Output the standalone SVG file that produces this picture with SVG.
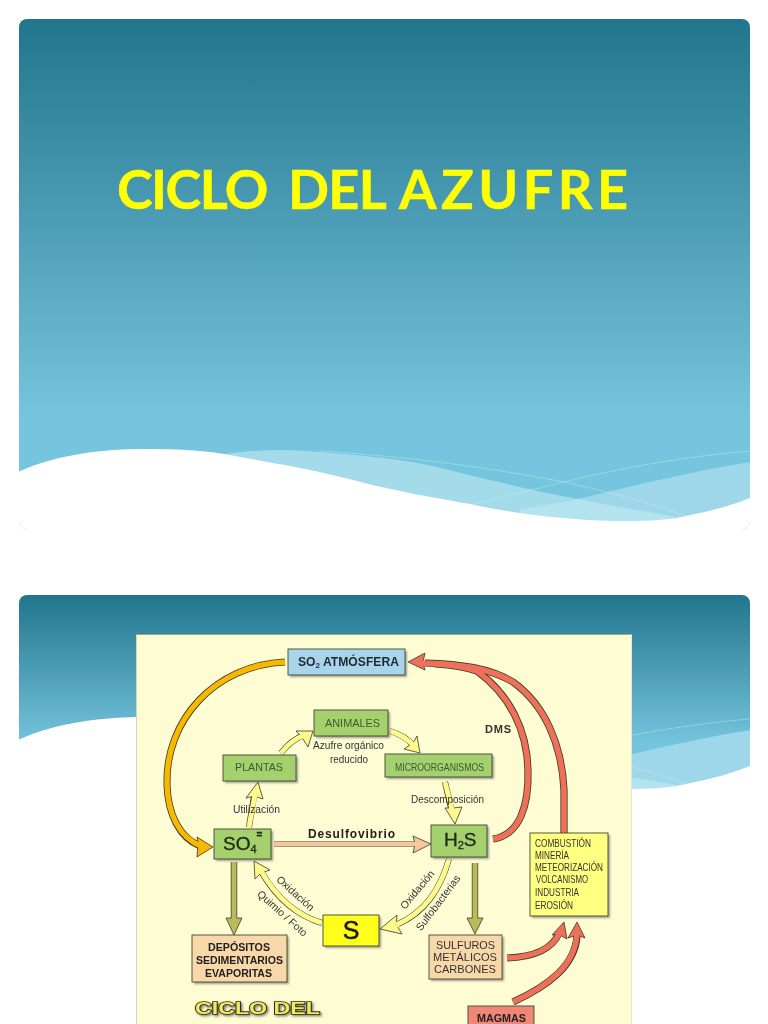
<svg xmlns="http://www.w3.org/2000/svg" xmlns:xlink="http://www.w3.org/1999/xlink" width="768" height="1024" viewBox="0 0 768 1024">
<style>
text{font-family:"Liberation Sans",Arial,sans-serif}
.box{stroke:#3f4a34;stroke-width:.9}
.sh{fill:#555;opacity:.55;filter:url(#bl)}
.g{fill:#a5d06e}
.t{font-size:10.5px;fill:#333}
.tg{font-size:11px;fill:#3d5a30}
.b{font-size:11px;font-weight:bold;fill:#222}
.big{font-size:19px;fill:#1c2a14;stroke:#1c2a14;stroke-width:.35}
.o{fill:none;stroke:#3a3a2a}
.head{stroke:#3a3a2a;stroke-width:.8;stroke-linejoin:round}
.red{fill:none;stroke:#ef7058;stroke-width:5.6}
.ro{stroke-width:7.2}
.org{fill:none;stroke:#f7b800;stroke-width:5.4}
.oo{stroke-width:7}
.yel{fill:none;stroke:#fdf98c;stroke-width:5}
.yo{stroke-width:6}
.pea{fill:none;stroke:#f6c79a;stroke-width:4}
.oli{fill:none;stroke:#b9ba5c;stroke-width:5}
.fr{fill:#ef7058}.fo{fill:#f7b800}.fy{fill:#fdf98c}.fp{fill:#f6c79a}.fl{fill:#b9ba5c}
</style>
<defs>
<linearGradient id="s1" x1="0" y1="19" x2="0" y2="420" gradientUnits="userSpaceOnUse"><stop offset="0" stop-color="#23758d"/><stop offset="1" stop-color="#74c5dd"/></linearGradient>
<linearGradient id="s2" x1="0" y1="595" x2="0" y2="745" gradientUnits="userSpaceOnUse"><stop offset="0" stop-color="#23758d"/><stop offset="1" stop-color="#74c5dd"/></linearGradient>
<filter id="bl" x="-20%" y="-20%" width="140%" height="140%"><feGaussianBlur stdDeviation="1"/></filter>
<filter id="soft" x="0" y="0" width="100%" height="100%"><feGaussianBlur stdDeviation=".3"/></filter>
<filter id="ds" x="-5%" y="-20%" width="115%" height="150%"><feDropShadow dx="1.5" dy="1.5" stdDeviation="1" flood-color="#444" flood-opacity=".7"/></filter>
<clipPath id="c1"><rect x="19" y="19" width="731" height="510" rx="8"/></clipPath>
<clipPath id="c2"><rect x="19" y="595" width="731" height="429" rx="8"/></clipPath>
<g id="wave">
<path d="M225 454C260 449 290 449 319 452C370 456 410 460 441 468C490 480 530 490 578 499C615 507 650 512 676 517L700 560H300Z" fill="#a3dbea"/>
<path d="M520 510C540 505 560 503 578 499C640 484 700 470 750 462V560H500Z" fill="#9dd7e9"/>
<path d="M520 510C540 505 560 503 578 499C615 507 650 512 676 517L640 540L520 530Z" fill="#b4e3f0"/>
<path d="M319 451C400 456 480 466 564 482C610 492 650 503 686 516" fill="none" stroke="#d9f0f6" stroke-opacity=".6" stroke-width=".8" stroke-dasharray="3 1"/>
<path d="M470 505C500 498 530 490 564 482C620 468 690 456 750 451" fill="none" stroke="#d9f0f6" stroke-opacity=".6" stroke-width=".8" stroke-dasharray="3 1"/>
<path d="M10 476C50 455 100 449 147 449C190 449 215 452 235 456C280 464 315 470 353 480C395 491 430 497 470 504C520 515 580 521 627 521C650 521 670 520 686 516C710 511 730 506 750 498L760 494V560H10Z" fill="#fff"/>
</g>
</defs>
<rect width="768" height="1024" fill="#fff"/>
<g clip-path="url(#c1)">
<rect x="19" y="19" width="731" height="510" fill="url(#s1)"/>
<use xlink:href="#wave" href="#wave"/>
</g>
<text y="209" font-size="54" font-weight="bold" fill="#ffff00" stroke="#ffff00" stroke-width=".5" style="font-family:Lato,'Liberation Sans',sans-serif"><tspan x="117" letter-spacing="-1.6">CICLO</tspan> <tspan x="288" letter-spacing="-.7">DEL</tspan> <tspan x="399" letter-spacing="4.5">AZUFRE</tspan></text>
<g clip-path="url(#c2)">
<rect x="19" y="595" width="731" height="429" fill="#fff"/>
<rect x="19" y="595" width="731" height="160" fill="url(#s2)"/>
<use xlink:href="#wave" href="#wave" transform="translate(0 268)"/>
</g>
<g filter="url(#soft)">
<rect id="panel" x="136" y="634" width="496" height="392" fill="#fefcd3"/>
<path d="M136 634H632" stroke="#3b4f55" stroke-width="1.2"/>
<path d="M136 634V1024" stroke="#b8b8a8" stroke-width="1.2"/>
<path d="M632 634V1024" stroke="#d8d8d0" stroke-width="1.2"/>
<g id="connectors">
<path class="o oo" d="M285 662C215 665 165 720 167 785C168 815 180 838 200 846"/>
<polygon class="head fo" points="213,847 197,837 198,843 197,857"/>
<path class="org" d="M285 662C215 665 165 720 167 785C168 815 180 838 201 846"/>
<path class="o ro" d="M564 833V790C562 745 545 705 513 682C490 668 460 664 425 663"/>
<path class="o ro" d="M493 839C520 835 529 805 528 770C527 730 510 695 477 671C465 667 450 665 435 664"/>
<polygon class="head fr" points="408,662 425,653 423,662 425,670"/>
<path class="red" d="M564 833V790C562 745 545 705 513 682C490 668 460 664 422 663"/>
<path class="red" d="M493 839C520 835 529 805 528 770C527 730 510 695 477 671C465 667 450 665 435 664"/>
<path class="o ro" d="M507 958C535 957 553 948 559 933"/>
<polygon class="head fr" points="564,922 552,935 558,934 567,939"/>
<path class="red" d="M507 958C535 957 553 948 560 932"/>
<path class="o ro" d="M513 1002C550 985 575 965 577 936"/>
<polygon class="head fr" points="577,922 568,938 577,935 585,938"/>
<path class="red" d="M513 1002C550 985 575 965 577 934"/>
<path class="o yo" d="M281 753C288 744 296 738 304 735"/>
<polygon class="head fy" points="313,731 296,731 301,736 308,747"/>
<path class="yel" d="M281 753C288 744 296 738 305 735"/>
<path class="o yo" d="M390 731C400 734 408 739 414 746"/>
<polygon class="head fy" points="420,753 417,736 413,743 404,749"/>
<path class="yel" d="M390 731C400 734 408 739 415 747"/>
<path class="o yo" d="M249 827L254 796"/>
<polygon class="head fy" points="258,782 246,798 254,796 263,799"/>
<path class="yel" d="M249 827L255 794"/>
<path class="o yo" d="M445 782L451 808"/>
<polygon class="head fy" points="455,824 445,808 453,808 462,807"/>
<path class="yel" d="M445 782L452 810"/>
<path class="o yo" d="M322 923C295 915 275 895 262 873"/>
<polygon class="head fy" points="254,861 255,879 261,873 270,870"/>
<path class="yel" d="M322 923C295 915 275 895 261 871"/>
<path class="o yo" d="M449 859C440 890 425 912 398 924"/>
<polygon class="head fy" points="380,929 397,915 396,924 402,934"/>
<path class="yel" d="M449 859C440 890 425 912 396 925"/>
<path class="o" stroke-width="5.2" d="M274 844H414"/>
<polygon class="head fp" points="431,844 413,836 415,844 413,853"/>
<path class="pea" d="M274 844H416"/>
<path class="o" stroke-width="6.4" d="M234 862V920"/>
<polygon class="head fl" points="234,935 226,918 242,918"/>
<path class="oli" d="M234 862V920"/>
<path class="o" stroke-width="6.4" d="M475 863V920"/>
<polygon class="head fl" points="475,934 467,918 483,918"/>
<path class="oli" d="M475 863V920"/>
</g>
<g id="so2"><rect class="sh" x="290" y="651" width="117" height="26"/><rect class="box" x="288" y="649" width="117" height="26" fill="#a9d5ec"/><text x="298" y="666" font-size="12" font-weight="bold" fill="#1f2a30" textLength="101" lengthAdjust="spacingAndGlyphs">SO<tspan font-size="8" dy="2">2</tspan><tspan dy="-2"> ATMÓSFERA</tspan></text></g>
<g id="animales"><rect class="sh" x="316" y="712" width="74" height="26"/><rect class="box g" x="314" y="710" width="74" height="26"/><text class="tg" x="325" y="727" textLength="55" lengthAdjust="spacingAndGlyphs">ANIMALES</text></g>
<g id="azufre-label"><text class="t" x="313" y="749" textLength="71" lengthAdjust="spacingAndGlyphs">Azufre orgánico</text><text class="t" x="330" y="763" textLength="38" lengthAdjust="spacingAndGlyphs">reducido</text></g>
<g id="plantas"><rect class="sh" x="225" y="757" width="73" height="26"/><rect class="box g" x="223" y="755" width="73" height="26"/><text class="tg" x="235" y="771" textLength="48" lengthAdjust="spacingAndGlyphs">PLANTAS</text></g>
<g id="microorganismos"><rect class="sh" x="387" y="756" width="107" height="23"/><rect class="box g" x="385" y="754" width="107" height="23"/><text class="tg" x="395" y="771" font-size="10" textLength="89" lengthAdjust="spacingAndGlyphs">MICROORGANISMOS</text></g>
<g id="so4"><rect class="sh" x="216" y="831" width="57" height="30"/><rect class="box g" x="214" y="829" width="57" height="30"/><text class="big" x="223" y="850">SO<tspan font-size="11" dy="3">4</tspan><tspan font-size="10" font-weight="bold" dy="-15">=</tspan></text></g>
<g id="h2s"><rect class="sh" x="433" y="827" width="56" height="32"/><rect class="box g" x="431" y="825" width="56" height="32"/><text class="big" x="444" y="846">H<tspan font-size="11" dy="3">2</tspan><tspan dy="-3">S</tspan></text></g>
<g id="s"><rect class="sh" x="325" y="917" width="56" height="31"/><rect class="box" x="323" y="915" width="56" height="31" fill="#ffff1a"/><text x="351" y="939" font-size="25" text-anchor="middle" fill="#1c1c10" stroke="#1c1c10" stroke-width=".5">S</text></g>
<g id="depositos"><rect class="sh" x="194" y="937" width="95" height="47"/><rect class="box" x="192" y="935" width="95" height="47" fill="#f8d8a8"/><text class="b" x="208" y="951" textLength="62" lengthAdjust="spacingAndGlyphs">DEPÓSITOS</text><text class="b" x="196" y="964" textLength="87" lengthAdjust="spacingAndGlyphs">SEDIMENTARIOS</text><text class="b" x="205" y="977" textLength="67" lengthAdjust="spacingAndGlyphs">EVAPORITAS</text></g>
<g id="sulfuros"><rect class="sh" x="431" y="937" width="73" height="44"/><rect class="box" x="429" y="935" width="73" height="44" fill="#f8d8a8"/><text class="t" x="436" y="949" font-size="11" textLength="59" lengthAdjust="spacingAndGlyphs">SULFUROS</text><text class="t" x="433" y="961" textLength="64" lengthAdjust="spacingAndGlyphs">METÁLICOS</text><text class="t" x="434" y="973" textLength="62" lengthAdjust="spacingAndGlyphs">CARBONES</text></g>
<g id="combustion"><rect class="sh" x="532" y="835" width="78" height="83"/><rect class="box" x="530" y="833" width="78" height="83" fill="#ffff80"/><text class="t" x="535" y="847" textLength="56" lengthAdjust="spacingAndGlyphs">COMBUSTIÓN</text><text class="t" x="535" y="859" textLength="34" lengthAdjust="spacingAndGlyphs">MINERÍA</text><text class="t" x="535" y="871" textLength="68" lengthAdjust="spacingAndGlyphs">METEORIZACIÓN</text><text class="t" x="536" y="883" textLength="52" lengthAdjust="spacingAndGlyphs">VOLCANISMO</text><text class="t" x="535" y="896" textLength="44" lengthAdjust="spacingAndGlyphs">INDUSTRIA</text><text class="t" x="535" y="909" textLength="38" lengthAdjust="spacingAndGlyphs">EROSIÓN</text></g>
<g id="magmas"><rect class="box" x="468" y="1006" width="66" height="24" fill="#f08674"/><text class="b" x="477" y="1022" textLength="49" lengthAdjust="spacingAndGlyphs">MAGMAS</text></g>
<g id="labels">
<text class="t" x="233" y="813" textLength="47" lengthAdjust="spacingAndGlyphs">Utilización</text>
<text class="t" x="411" y="803" textLength="73" lengthAdjust="spacingAndGlyphs">Descomposición</text>
<text x="485" y="733" font-size="11" font-weight="bold" fill="#333" textLength="26">DMS</text>
<text x="308" y="838" font-size="12" font-weight="bold" fill="#222" textLength="87">Desulfovibrio</text>
<text class="t" font-size="10" text-anchor="middle" transform="translate(293 896) rotate(42)">Oxidación</text>
<text class="t" font-size="10" text-anchor="middle" transform="translate(280 916) rotate(42)">Quimio / Foto</text>
<text class="t" font-size="10" text-anchor="middle" transform="translate(420 892) rotate(-50)">Oxidación</text>
<text class="t" font-size="10" text-anchor="middle" transform="translate(441 905) rotate(-53)">Sulfobacterias</text>
<text x="195" y="1014" font-size="17" font-weight="bold" fill="#f2ea5a" stroke="#2c2c1c" stroke-width="1.6" paint-order="stroke" textLength="125" lengthAdjust="spacingAndGlyphs" filter="url(#ds)">CICLO DEL</text>
</g>
</g>
</svg>
